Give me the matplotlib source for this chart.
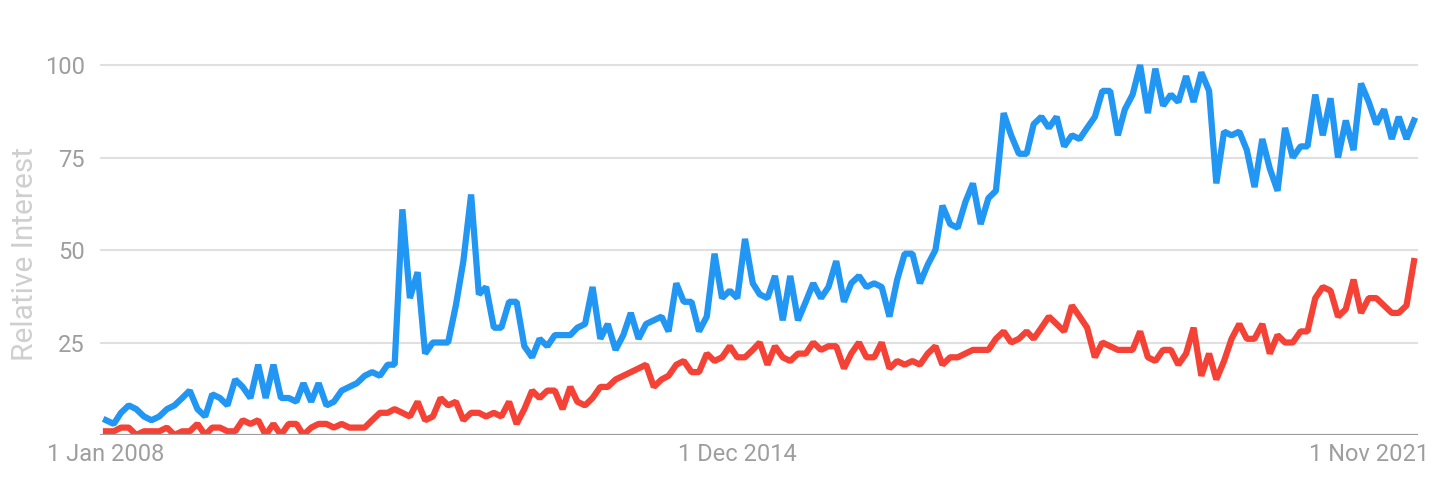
import numpy as np
import pandas as pd
import matplotlib
matplotlib.use("Agg")
import matplotlib.pyplot as plt

plt.rcParams['font.family'] = ['Roboto', 'DejaVu Sans']

# monthly values, Jan 2008 .. May 2022
months = pd.date_range("2008-01-01", periods=173, freq="MS")

blue = [4, 3, 6, 8, 7, 5, 4, 5, 7, 8, 10, 12, 7, 5, 11, 10, 8, 15, 13, 10,
        19, 10, 19, 10, 10, 9, 14, 9, 14, 8, 9, 12, 13, 14, 16, 17, 16, 19, 19, 61,
        37, 44, 22, 25, 25, 25, 35, 47, 65, 38,
        40, 29, 29, 36, 36, 24, 21, 26, 24, 27, 27, 27, 29, 30,
        40, 26, 30, 23, 27, 33, 26, 30, 31, 32, 28, 41, 36, 36, 28, 32,
        49, 37, 39, 37, 53, 41, 38, 37, 43, 31, 43, 31, 36, 41, 37, 40,
        47, 36, 41, 43, 40, 41, 40, 32, 42, 49, 49, 41, 46, 50, 62, 57, 56,
        63, 68, 57, 64, 66, 87, 81, 76, 76, 84, 86, 83, 86, 78, 81,
        80, 83, 86, 93, 93, 81, 88, 92, 100, 87, 99, 89, 92, 90, 97,
        90, 98, 93, 68, 82, 81, 82, 77, 67, 80, 72, 66, 83, 75, 78,
        78, 92, 81, 91, 75, 85, 77, 95, 90, 84, 88, 80, 86, 80, 85]

red = [1, 1, 2, 2, 0, 1, 1, 1, 2, 0, 1, 1, 3, 0, 2, 2, 1, 1, 4, 3,
       4, 0, 3, 0, 3, 3, 0, 2, 3, 3, 2, 3, 2, 2, 2, 4, 6, 6, 7, 6,
       5, 9, 4, 5, 10, 8, 9, 4, 6, 6,
       5, 6, 5, 9, 3, 7, 12, 10, 12, 12, 7, 13, 9, 8, 10, 13, 13, 15, 16, 17,
       18, 19, 13, 15, 16, 19, 20, 17, 17, 22, 20, 21, 24, 21, 21, 23, 25, 19, 24, 21,
       20, 22, 22, 25, 23, 24, 24, 18, 22, 25, 21, 21, 25, 18, 20, 19, 20, 19, 22, 24,
       19, 21, 21,
       22, 23, 23, 23, 26, 28, 25, 26, 28, 26, 29, 32, 30, 28, 35, 32, 29, 21, 25, 24,
       23, 23, 23, 28, 21, 20, 23, 23, 19, 22, 29, 16, 22, 15, 20, 26, 30, 26, 26, 30,
       22, 27, 25, 25, 28, 28, 37, 40, 39, 32, 34, 42, 33, 37, 37, 35, 33, 33, 35, 47]

yticks = [25, 50, 75, 100]
xtick_dates = ["2008-01-01", "2014-12-01", "2021-11-01"]
xtick_labels = ["1 Jan 2008", "1 Dec 2014", "1 Nov 2021"]

W, H = 1436, 498
fig = plt.figure(figsize=(W / 100, H / 100), dpi=100)
ax = fig.add_axes([100 / W, (H - 435) / H, 1318 / W, 407 / H])

for v in yticks:
    ax.axhline(v, color="#e0e0e0", lw=1.5, zorder=1)
ax.axhline(0, color="#9e9e9e", lw=1.6, zorder=4)

ax.plot(months, blue, color="#2196F3", lw=4.5, solid_joinstyle="bevel", zorder=3)
ax.plot(months, red, color="#F44336", lw=4.5, solid_joinstyle="bevel", zorder=3)

ax.set_ylim(0, 110)
ax.set_xlim(months[0] - pd.Timedelta(days=24), months[-1] + pd.Timedelta(days=16))

for s in ax.spines.values():
    s.set_visible(False)

ax.set_yticks(yticks)
ax.set_yticklabels([str(v) for v in yticks])
ax.set_xticks(pd.to_datetime(xtick_dates))
ax.set_xticklabels(xtick_labels)
ax.tick_params(axis="both", length=0, labelsize=17, labelcolor="#9e9e9e")
ax.tick_params(axis="y", pad=11)
ax.tick_params(axis="x", pad=6)

fig.text(25 / W, (H - 254) / H, "Relative Interest", rotation=90,
         ha="center", va="center", fontsize=21.5, color="#cfcfcf")

fig.savefig("out.png", dpi=100)
